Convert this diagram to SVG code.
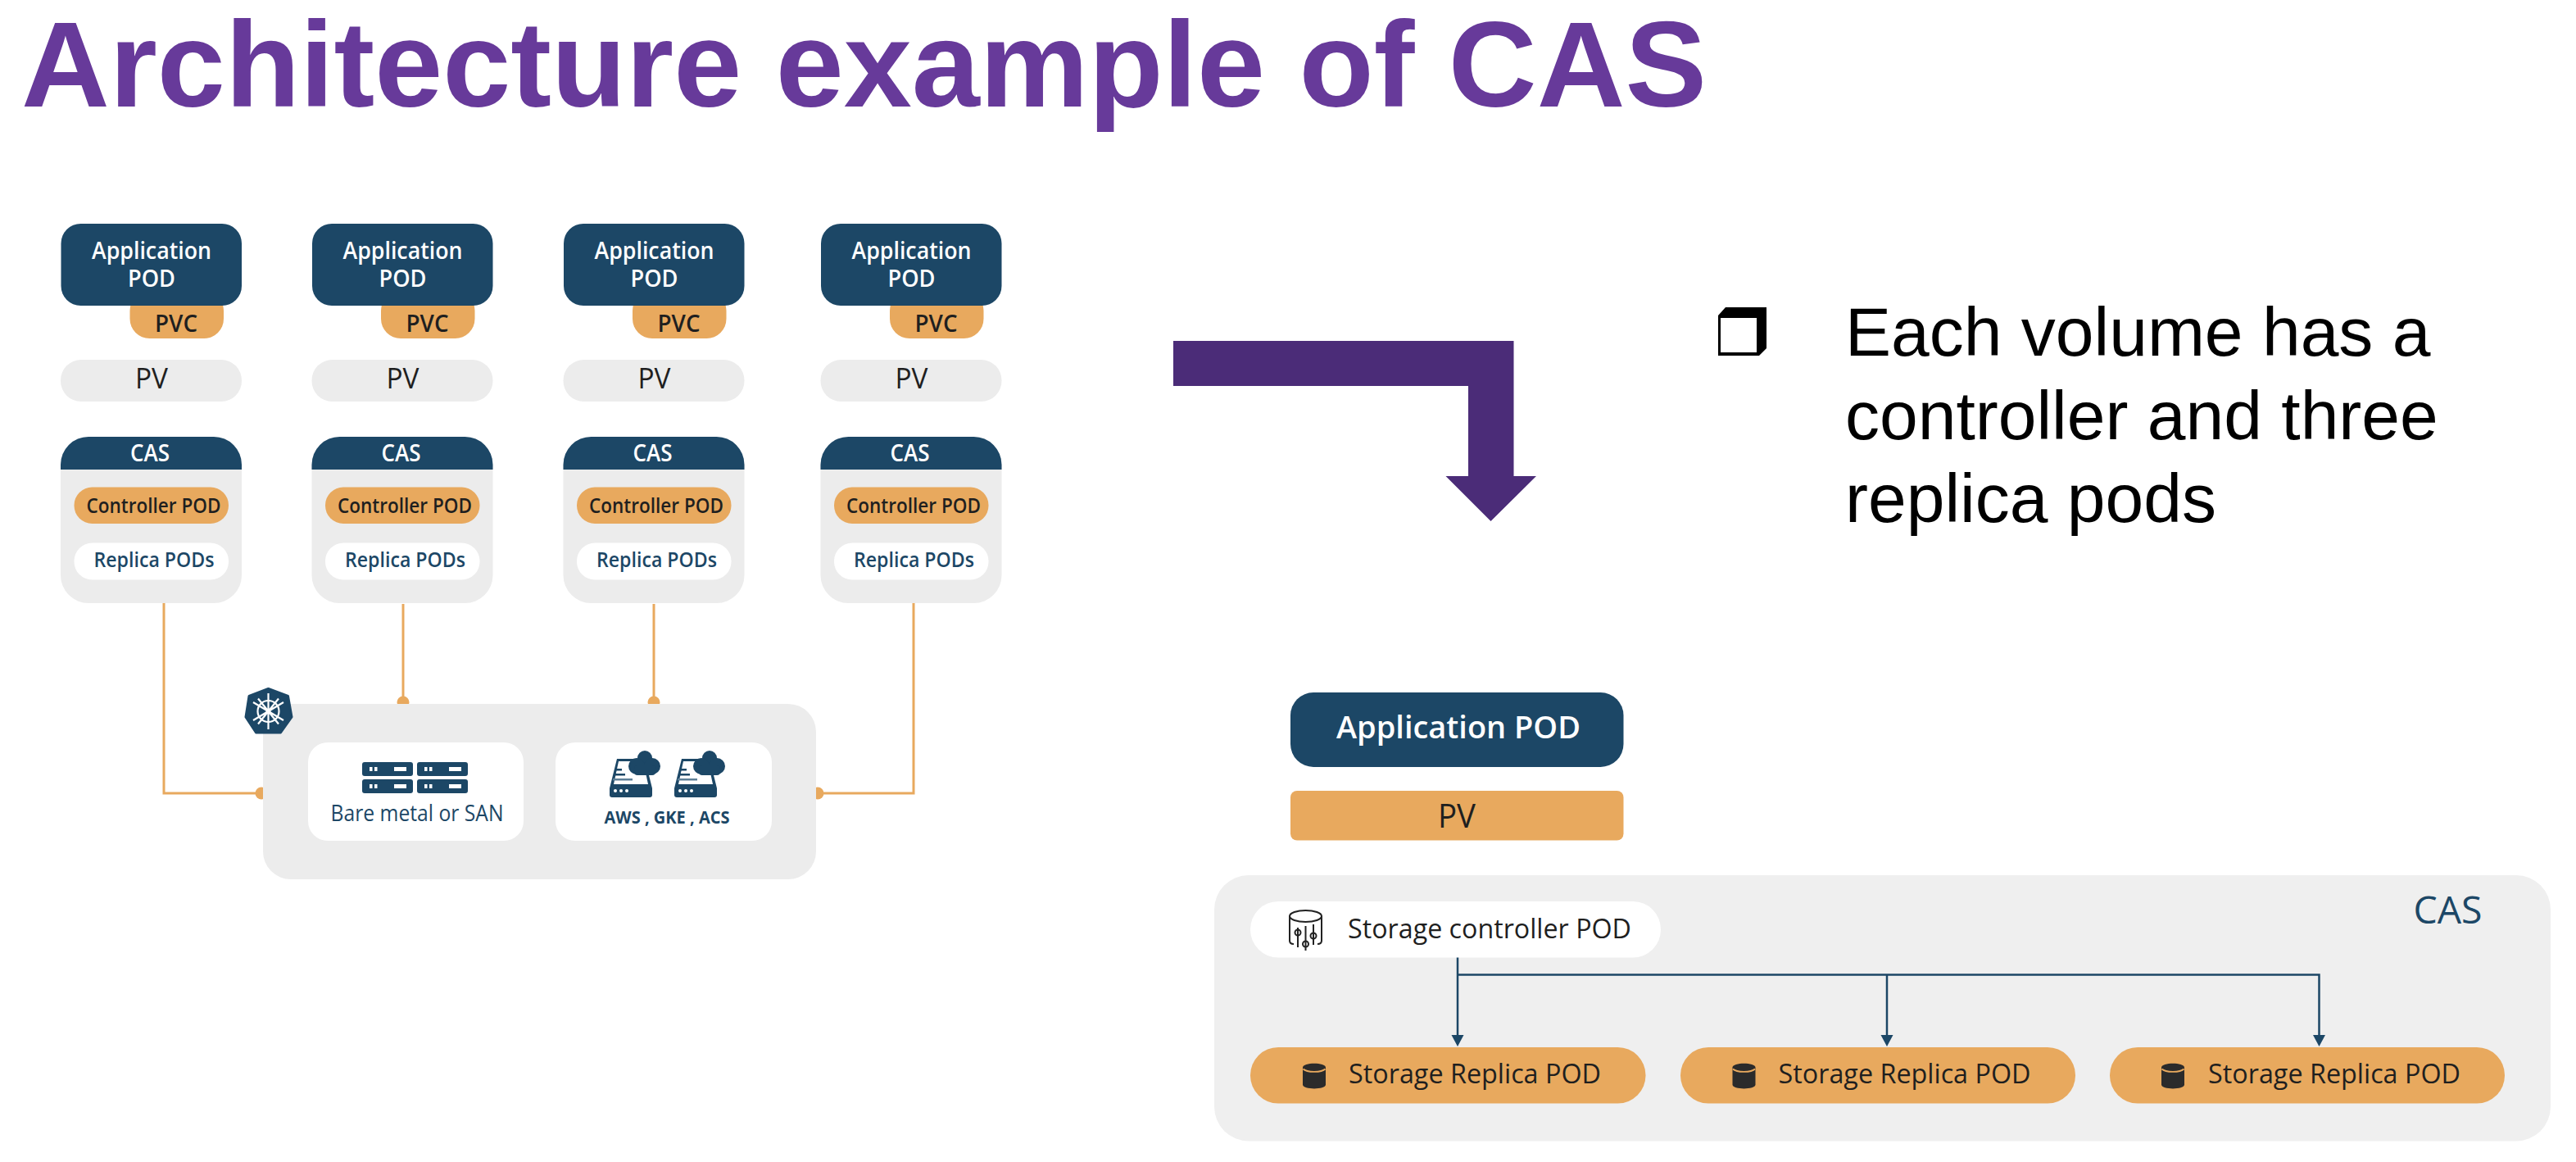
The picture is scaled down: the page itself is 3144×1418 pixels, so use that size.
<svg xmlns="http://www.w3.org/2000/svg" width="3144" height="1418" viewBox="0 0 3144 1418">
<style>
text{font-family:"Open Sans","Noto Sans","Liberation Sans",sans-serif}
.m{text-anchor:middle}
.w{fill:#fff}
.d{fill:#1f1f1f}
.n{fill:#1c4766}
.navy{fill:#1c4766}
.org{fill:#e8a95e}
.gry{fill:#ececec}
.gr2{fill:#efefef}
.wht{fill:#fff}
.s26{font-size:28px;font-weight:600}
.s24{font-size:25.5px;font-weight:600}
.s31{font-size:34px}
.line{fill:none;stroke:#e8a95e;stroke-width:3}
.blue{fill:none;stroke:#1c4766;stroke-width:2.5}
.title{font-family:"Liberation Sans",Arial,sans-serif;font-weight:700;font-size:148px;fill:#673a9a}
.bul{font-family:"Liberation Sans",Arial,sans-serif;font-size:84px;fill:#000}
.icon{fill:#2b2b2b}
.wh{fill:none;stroke:#fff;stroke-width:2.2}
.ic{fill:none;stroke:#222;stroke-width:2}
</style>
<defs>
<marker id="dot" markerUnits="userSpaceOnUse" markerWidth="16" markerHeight="16" refX="8" refY="8"><circle cx="8" cy="8" r="7.5" fill="#e8a95e"/></marker>
<marker id="arr" markerUnits="userSpaceOnUse" markerWidth="15" markerHeight="16" refX="1" refY="8" orient="auto"><path d="M0 0.5L14 8L0 15.5Z" fill="#1c4766"/></marker>
<g id="cyl"><path d="M0 5C0 -1.5 28 -1.5 28 5V26C28 32.5 0 32.5 0 26Z" class="icon"/><path d="M0.5 7C5 11.5 23 11.5 27.5 7" fill="none" stroke="#e8a95e" stroke-width="1.8"/></g>
<g id="srv"><rect width="62" height="17" rx="3" class="navy"/><rect x="9" y="6" width="3.5" height="5" class="wht"/><rect x="15" y="6" width="3.5" height="5" class="wht"/><rect x="39" y="6" width="15" height="5" class="wht"/></g>
<g id="drv"><path d="M9 2H43L52 38V46Q52 49 49 49H3Q0 49 0 46V38Z" class="navy"/><path d="M11 5H41L47 33H5Z" class="wht"/><rect x="6" y="14" width="9" height="2.5" class="navy"/><rect x="5" y="20" width="14" height="2.5" class="navy"/><rect x="4" y="26" width="24" height="2.5" fill="#5e7f97"/><circle cx="7" cy="41" r="2" class="wht"/><circle cx="14" cy="41" r="2" class="wht"/><circle cx="21" cy="41" r="2" class="wht"/><circle cx="43" cy="1" r="9" class="navy"/><circle cx="33" cy="11" r="10" class="navy"/><circle cx="52" cy="11" r="10" class="navy"/><rect x="30" y="10" width="26" height="12" rx="4" class="navy"/></g>
<g id="colbody">
<rect class="org" x="158.5" y="355" width="114.5" height="58" rx="24"/>
<rect class="navy" x="74.5" y="273" width="220.5" height="100" rx="24"/>
<text class="w m s26" x="185" y="316" textLength="146" lengthAdjust="spacingAndGlyphs">Application</text>
<text class="w m s26" x="185" y="350" textLength="58" lengthAdjust="spacingAndGlyphs">POD</text>
<text class="d m s26" x="215" y="405" textLength="52" lengthAdjust="spacingAndGlyphs">PVC</text>
<rect class="gry" x="74" y="439" width="221" height="51" rx="25"/>
<text class="d m s31" x="185" y="474" style="font-weight:400" textLength="40" lengthAdjust="spacingAndGlyphs">PV</text>
<rect class="gry" x="74" y="533" width="221" height="203" rx="34"/>
<path class="navy" d="M74 573V567A34 34 0 0 1 108 533H261A34 34 0 0 1 295 567V573Z"/>
<text class="w m s26" x="183" y="563" textLength="48" lengthAdjust="spacingAndGlyphs">CAS</text>
<rect class="org" x="90.5" y="594.5" width="188.5" height="44.5" rx="22"/>
<text class="d m s24" x="187.5" y="626" textLength="164" lengthAdjust="spacingAndGlyphs">Controller POD</text>
<rect class="wht" x="90.5" y="662.5" width="188.5" height="45" rx="22"/>
<text class="n m s24" x="188" y="692" textLength="147" lengthAdjust="spacingAndGlyphs">Replica PODs</text>
</g>
</defs>

<g id="title"><text class="title" x="26" y="130" textLength="2057" lengthAdjust="spacingAndGlyphs">Architecture example of CAS</text></g>

<g id="connectors">
<path class="line" d="M200 736V968H319" marker-end="url(#dot)"/>
<path class="line" d="M492 737V857" marker-end="url(#dot)"/>
<path class="line" d="M798 737V857" marker-end="url(#dot)"/>
<path class="line" d="M1115 736V968H998" marker-end="url(#dot)"/>
</g>

<g id="col1"><use href="#colbody"/></g>
<g id="col2"><use href="#colbody" x="306.5"/></g>
<g id="col3"><use href="#colbody" x="613.5"/></g>
<g id="col4"><use href="#colbody" x="927.5"/></g>

<g id="cluster">
<rect class="gry" x="321" y="859" width="675" height="214" rx="34"/>
<rect class="wht" x="376" y="906" width="263" height="120" rx="24"/>
<rect class="wht" x="678" y="906" width="264" height="120" rx="24"/>
<use href="#srv" x="442" y="930"/><use href="#srv" x="509" y="930"/><use href="#srv" x="442" y="951"/><use href="#srv" x="509" y="951"/>
<text class="n m" style="font-size:27px" x="509" y="1002" textLength="211" lengthAdjust="spacingAndGlyphs">Bare metal or SAN</text>
<use href="#drv" x="744" y="924"/><use href="#drv" x="823" y="924"/>
<text class="n m" style="font-size:21px;font-weight:700" x="814" y="1005" textLength="153" lengthAdjust="spacingAndGlyphs">AWS , GKE , ACS</text>
</g>

<g id="k8s-icon">
<path class="navy" stroke="#1c4766" stroke-width="3" stroke-linejoin="round" d="M327.5 840.5L351.5 849.5L356 875L342.500 894H312.500L300 875L304 849.500Z"/>
<circle class="wh" cx="327.500" cy="868" r="13"/>
<circle cx="327.500" cy="868" r="3" class="wht"/>
<path class="wh" d="M327.500 846V890M309 857L346 879M346 857L309 879M315 852.500L340 883.500M340 852.500L315 883.500" stroke-width="1.600"/>
</g>

<g id="flow-arrow"><path fill="#4b2c78" d="M1432 416H1847.500V581H1875L1819.500 636L1764.500 581H1792V471H1432Z"/></g>

<g id="bullet">
<path fill="#000" d="M2097 385L2106 375H2156V425L2147 434H2097Z"/>
<rect class="wht" x="2100" y="388" width="44" height="42"/>
<text class="bul" x="2252" y="434">Each volume has a</text>
<text class="bul" x="2252" y="536">controller and three</text>
<text class="bul" x="2252" y="637">replica pods</text>
</g>

<g id="app-pod"><rect class="navy" x="1575" y="845" width="406.500" height="91" rx="28"/><text class="w m" style="font-size:38px;font-weight:600" x="1780" y="901" textLength="298" lengthAdjust="spacingAndGlyphs">Application POD</text></g>
<g id="pv"><rect class="org" x="1575" y="965" width="406.500" height="60.500" rx="8"/><text class="d m" style="font-size:40px" x="1778" y="1010" textLength="46" lengthAdjust="spacingAndGlyphs">PV</text></g>

<g id="cas-panel"><rect class="gr2" x="1482" y="1068" width="1631" height="324.500" rx="42"/><text class="n m" style="font-size:46px" x="2987.500" y="1127" textLength="84" lengthAdjust="spacingAndGlyphs">CAS</text></g>

<g id="cas-connectors">
<path class="blue" d="M1779 1168V1264" marker-end="url(#arr)"/>
<path class="blue" d="M1779 1189.500H2830.500V1264" marker-end="url(#arr)"/>
<path class="blue" d="M2303 1189.500V1264" marker-end="url(#arr)"/>
</g>

<g id="storage-controller"><rect class="wht" x="1526" y="1100" width="501" height="68.500" rx="34"/>
<ellipse class="ic" cx="1593.500" cy="1118" rx="19.500" ry="7"/>
<path class="ic" d="M1574 1118V1148Q1574 1152 1579 1152M1613 1118V1148Q1613 1152 1608 1152M1584 1132V1156M1593.500 1130V1160M1603 1128V1153"/>
<circle class="ic" cx="1584" cy="1138" r="3.500"/><circle class="ic" cx="1593.500" cy="1152" r="3.500"/><circle class="ic" cx="1603" cy="1142" r="3.500"/>
<text class="d" style="font-size:33px" x="1645" y="1145" textLength="346" lengthAdjust="spacingAndGlyphs">Storage controller POD</text></g>

<g id="replica-1"><rect class="org" x="1526" y="1278" width="482.500" height="68.500" rx="34"/><use href="#cyl" x="1590" y="1297.500"/><text class="d" style="font-size:33px" x="1646" y="1322" textLength="308" lengthAdjust="spacingAndGlyphs">Storage Replica POD</text></g>
<g id="replica-2"><rect class="org" x="2051" y="1278" width="482" height="68.500" rx="34"/><use href="#cyl" x="2114.500" y="1297.500"/><text class="d" style="font-size:33px" x="2170.500" y="1322" textLength="308" lengthAdjust="spacingAndGlyphs">Storage Replica POD</text></g>
<g id="replica-3"><rect class="org" x="2575" y="1278" width="482" height="68.500" rx="34"/><use href="#cyl" x="2638" y="1297.500"/><text class="d" style="font-size:33px" x="2695" y="1322" textLength="308" lengthAdjust="spacingAndGlyphs">Storage Replica POD</text></g>
</svg>
